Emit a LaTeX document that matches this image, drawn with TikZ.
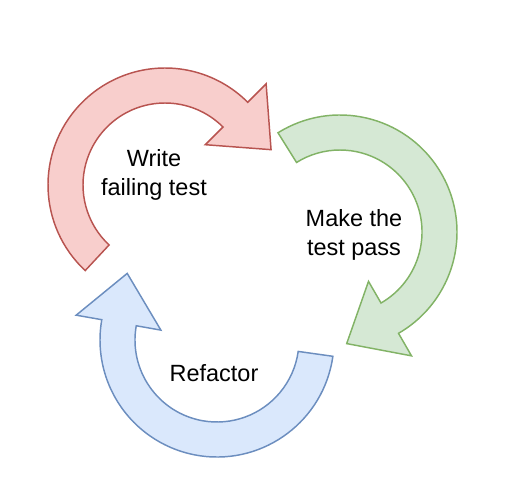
\documentclass[tikz,border=0pt]{standalone}
\usepackage{fontspec}
\setmainfont{Liberation Sans}
\definecolor{redfill}{HTML}{F8CECC}
\definecolor{redline}{HTML}{B85450}
\definecolor{greenfill}{HTML}{D5E8D4}
\definecolor{greenline}{HTML}{82B366}
\definecolor{bluefill}{HTML}{DAE8FC}
\definecolor{blueline}{HTML}{6C8EBF}
\tikzset{cycletext/.style = {align = center, font = \fontsize{17.6}{21.8}\selectfont}}
\begin{document}
\begin{tikzpicture}[x = 0.75pt, y = 0.75pt]
\useasboundingbox (0,0) rectangle (516,480);

% the three bent arrows: centre, start angle of the tail, colours
\foreach \cx/\cy/\start/\fillcol/\drawcol in {165/295/227/redfill/redline, 340/248/122/greenfill/greenline, 217/140/-8/bluefill/blueline}{
   \pgfmathsetmacro\stop{\start - 182}
   \pgfmathsetmacro\tip{\stop - 26.57}
   \begin{scope}[shift = {(\cx,\cy)}]
   \draw[draw = \drawcol, fill = \fillcol, line width = 1.1pt, line join = miter]
      (\start:117) arc[start angle = \start, end angle = \stop, radius = 117]
      -- (\stop:143) -- (\tip:111.8) -- (\stop:57) -- (\stop:82)
      arc[start angle = \stop, end angle = \start, radius = 82] -- cycle;
   \end{scope}
   }

\node[cycletext] (write) at (154,305) {Write\\failing test};
\node[cycletext] (pass) at (354,245) {Make the\\test pass};
\node[cycletext] (refactor) at (214,107) {Refactor};
\end{tikzpicture}
\end{document}
